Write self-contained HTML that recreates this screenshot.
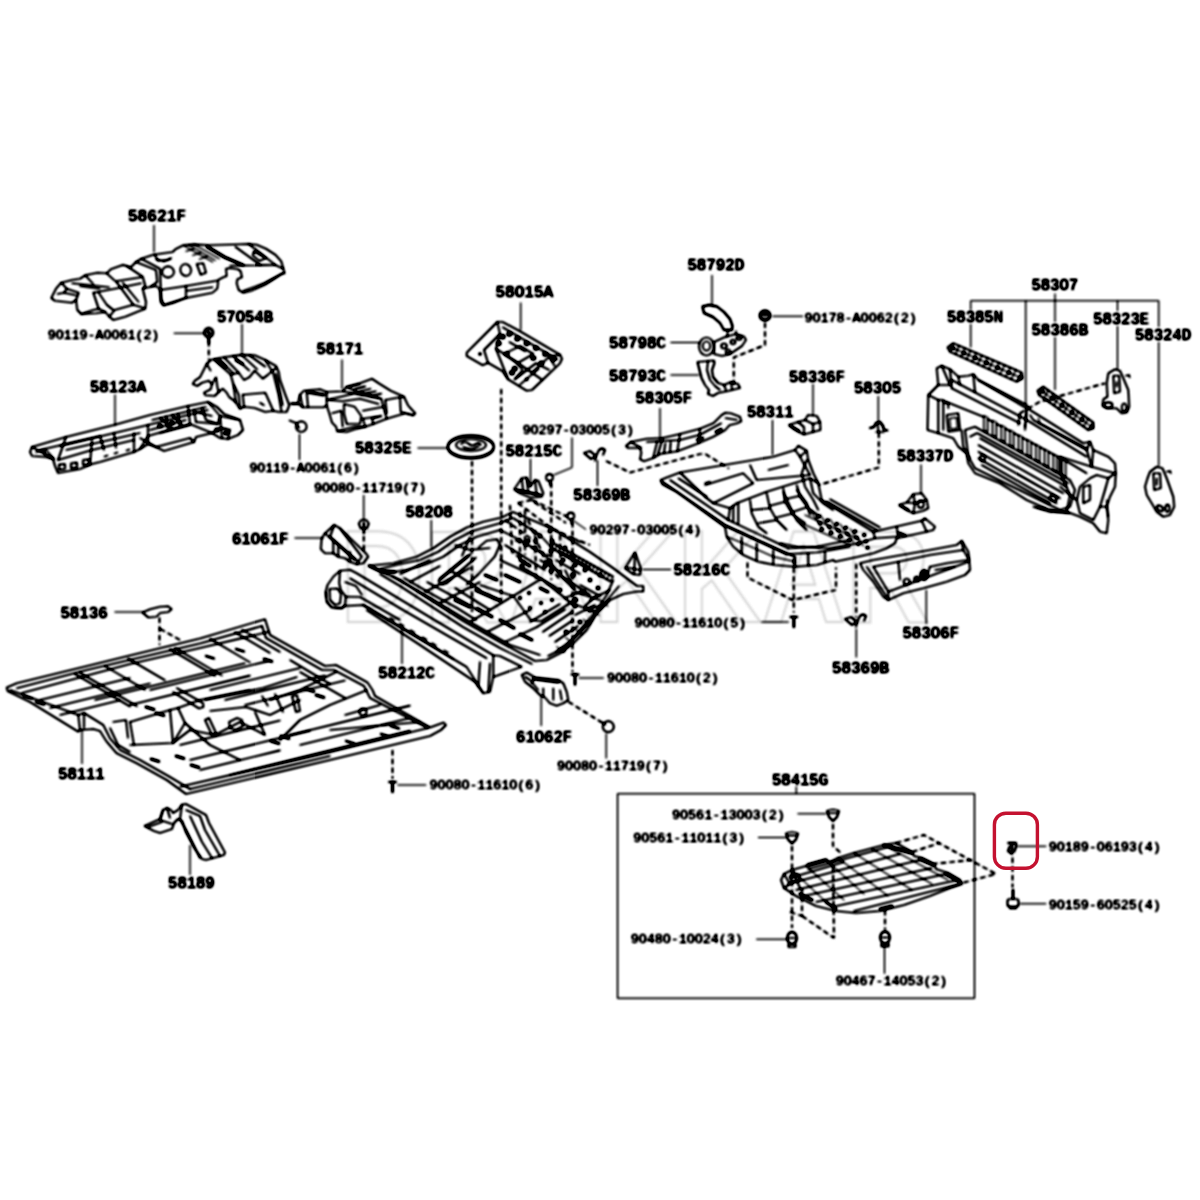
<!DOCTYPE html>
<html><head><meta charset="utf-8"><title>Parts diagram</title>
<style>
html,body{margin:0;padding:0;background:#fff;}
body{width:1200px;height:1200px;overflow:hidden;font-family:"Liberation Mono",monospace;}
svg{display:block;}
.p{fill:none;stroke:#111;stroke-width:1.1;stroke-linejoin:round;stroke-linecap:round;}
.pf{fill:#fff;stroke:#111;stroke-width:1.1;stroke-linejoin:round;stroke-linecap:round;}
.t{fill:none;stroke:#222;stroke-width:0.9;stroke-linejoin:round;stroke-linecap:round;}
.l{fill:none;stroke:#4a4a4a;stroke-width:1.0;}
.d{fill:none;stroke:#111;stroke-width:1.2;stroke-dasharray:5.5 3.2;stroke-linecap:butt;}
.b{font-family:"Liberation Mono",monospace;font-weight:normal;font-size:16.2px;fill:#0a0a0a;stroke:#0a0a0a;stroke-width:0.12;}
.s{font-family:"Liberation Mono",monospace;font-weight:normal;font-size:13.4px;fill:#111;}
.k{fill:#111;stroke:#111;stroke-width:1;}
</style></head><body>
<svg width="1200" height="1200" viewBox="0 0 1200 1200">
<defs><filter id="bl" filterUnits="userSpaceOnUse" x="0" y="0" width="1200" height="1200" color-interpolation-filters="sRGB"><feGaussianBlur stdDeviation="0.85"/><feComponentTransfer><feFuncR type="linear" slope="2.5" intercept="-1.5"/><feFuncG type="linear" slope="2.5" intercept="-1.5"/><feFuncB type="linear" slope="2.5" intercept="-1.5"/></feComponentTransfer></filter></defs>
<rect width="1200" height="1200" fill="#fff"/>
<g filter="url(#bl)">
<rect x="-10" y="-10" width="1220" height="1220" fill="#fff"/>

<g id="01_58621F">
<polygon class="pf" points="51.3,298 56,288.7 61.3,282.7 72,280 80,278.7 85.3,275.3 97.3,272.7 106.7,273.3 110.7,269.3 122.7,264.9 126.7,266 130.7,267.3 136,262 141.3,258.7 153.3,254.7 172.7,252 175.3,249.3 183.3,245.3 194,244.4 208.7,245.3 224.7,244.7 248.7,244 256.7,244.7 266,248.7 275.3,254.7 281.3,261.3 283.3,268.7 284.7,273.3 281.3,274 275.3,278 264.7,284.7 251.3,290.7 243.3,292.7 238.7,290 236.7,283.3 237.3,279.3 242,277.3 240.7,271.3 238,269.3 230,268 226,268.7 226.7,276 223.3,277.3 218,280 218,283.3 217.3,288.7 212.7,292.7 186,298 163.3,305.3 160.7,302 160,290 156.7,286 150.7,286.7 142.7,288.7 144,294 146,302 145.3,308.7 138.7,311.3 125.3,316.7 113.3,320 109.3,316.7 105.3,312 96,313.3 81.3,314 77.3,310 76,300 72,302.7 54.7,300.7"/>
<polyline class="p" points="61.3,282.7 66.7,288.7 64,292.7 57.3,294"/>
<polyline class="p" points="66.7,288.7 78.7,292.7 76,300"/>
<polyline class="p" points="64,292.7 76,295.3"/>
<polyline class="p" points="72,283.3 109.3,287.3"/>
<polyline class="p" points="80,286 100,288.7"/>
<polyline class="p" points="85.3,275.3 93.3,284"/>
<polyline class="p" points="93.3,292.7 98.7,308.7 105.3,312"/>
<polyline class="p" points="98.7,292.7 106.7,304.7 113.3,310"/>
<polyline class="p" points="93.3,292.7 114.7,288.7 141.3,283.3"/>
<polyline class="p" points="116,281.3 133.3,304.7 144,308"/>
<polyline class="p" points="122.7,282.7 138.7,302"/>
<polyline class="p" points="116,281.3 141.3,277.3"/>
<polyline class="p" points="126.7,266 142.7,276.7 145.3,286 142.7,288.7"/>
<polyline class="p" points="106.7,273.3 114.7,280.7"/>
<polyline class="p" points="136,262 156,270 157.3,282 150.7,286.7"/>
<polyline class="p" points="141.3,258.7 160,268.7 160.7,288.7 161.3,299.3 164,305.3 173.3,302.7 185.3,298"/>
<polyline class="p" points="81.3,314 93.3,310 98.7,308.7"/>
<polyline class="p" points="109.3,316.7 114.7,310 133.3,304.7"/>
<polyline class="p" points="156,259.3 164,261.3 170.7,258.7"/>
<ellipse class="p" cx="168" cy="272" rx="6" ry="5.6"/>
<ellipse class="p" cx="185.7" cy="270" rx="5.33333" ry="6" transform="rotate(-15 185.7 270)"/>
<polyline class="p" points="196.7,264 203.3,263.3 206,272.7 200.7,274.7 196.7,264"/>
<polyline class="t" points="183.3,245.3 212.7,262"/>
<polyline class="t" points="188.7,244.9 215.3,260.4"/>
<polyline class="t" points="194,244.4 219.3,258.7"/>
<polyline class="t" points="186,251.3 194,248.7"/>
<polyline class="t" points="192.7,255.3 200.7,252.7"/>
<polyline class="t" points="199.3,259.3 207.3,256.4"/>
<polyline class="p" style="stroke-width:2.24" points="207.3,246.7 224.7,257.3 243.3,265.3"/>
<polyline class="p" points="235.3,246.7 260.7,265.3"/>
<polyline class="p" points="248.7,244 275.3,264.9 230,265.7"/>
<polyline class="p" points="275.3,264.9 283.3,268.7"/>
<polyline class="p" points="254,251.3 266,258 259.3,260.9 252.7,255.3 254,251.3"/>
<polyline class="p" points="283.3,272.9 264.7,283.1 243.3,291.1"/>
<polyline class="p" points="160,290 186,286 216.7,280.7"/>
<polyline class="p" points="186,286 186,298"/>
<polyline class="p" points="187.3,290.7 212.7,287.3"/>
<polyline class="p" points="154.7,254.7 158,260.7 167.3,260 171.3,258"/>
</g>

<g id="02_57054B">
<polygon class="pf" points="214,359.3 224,357.3 241.3,354.9 254.7,355.3 265.3,360 276,366 278.7,372 280,380 285.3,394.7 289.3,405.3 286.7,412 278.7,412 273.3,410.7 265.3,412 254.7,408 244,406.7 240,408.7 236,402.7 233.3,400 229.3,397.3 226.7,392.7 222.7,388.7 218.7,392 214.7,396 205.3,395.3 204,392.7 210.7,389.3 212,384 208.7,380.7 202,382.7 197.3,386 192.7,384 194.7,380.7 200,377.3 203.3,370.7 206.7,364 210.7,360"/>
<polyline class="p" points="214,359.3 230.7,374.7 233.3,384 236,402.7"/>
<polyline class="p" points="230.7,374.7 238.7,372.7 244,380 249.3,377.3 254.7,370.7 262.7,378.7 268,374.7 276,368"/>
<polyline class="p" points="224,357.3 238.7,372.7"/>
<polyline class="p" points="233.3,356 249.3,370.7"/>
<polyline class="p" points="241.3,354.9 257.3,369.3"/>
<polyline class="p" points="249.3,355.3 265.3,366.7"/>
<polyline class="p" points="218.7,358.7 233.3,373.3"/>
<polyline class="p" style="stroke-width:2.45" points="216,360 225.3,366.7"/>
<polyline class="p" style="stroke-width:2.1" points="236,360 242.7,364"/>
<polyline class="p" points="242.7,394.7 265.3,392.7 273.3,410.7"/>
<polyline class="p" points="242.7,394.7 244,406.7"/>
<polyline class="p" points="265.3,360 273.3,373.3 278.7,394.7 281.3,410.7"/>
<polyline class="p" points="276,373.3 282.7,405.3"/>
<polyline class="p" points="233.3,384 238.7,394.7 240,408.7"/>
<polyline class="p" points="212,384 216,377.3 217.3,386.7 218.7,392"/>
<polyline class="p" points="206.7,364 210.7,370.7"/>
<polyline class="p" points="260,402.7 264,405.3"/>
</g>

<g id="03_58123A">
<polygon class="pf" points="30,452 32,447 66,437 114,425 150,415 188,406 208,402 217,407 224,414 240,420 243,430 238,435 228,439 220,438 212,433 196,437 194,442 164,451 156,447 148,444 140,449 134,452 100,462 92,464 80,469 58,473 55,466 53,459 46,457 32,456"/>
<polyline class="p" points="32,447 54,459"/>
<polyline class="p" points="66,437 58,460"/>
<polyline class="p" points="60,446 148,425 208,410"/>
<polyline class="p" points="66,450 140,433"/>
<polyline class="p" points="40,450 100,436"/>
<polyline class="p" points="36,452 44,450 45,455"/>
<polyline class="p" points="92,440 90,464"/>
<polyline class="p" points="134,433 134,452"/>
<polyline class="p" points="148,425 148,444"/>
<polyline class="p" points="188,406 190,424 212,433"/>
<polyline class="p" points="190,424 148,436"/>
<polyline class="p" points="208,402 220,416 222,438"/>
<polyline class="p" points="196,412 212,416"/>
<polyline class="p" points="220,416 240,420"/>
<polyline class="p" points="156,447 190,438 194,442"/>
<polyline class="p" points="160,418 172,428"/>
<polyline class="p" points="172,415 182,425"/>
<polyline class="p" points="140,438 156,447"/>
<polyline class="p" points="150,430 186,420"/>
<polyline class="p" points="222,428 230,430 228,439"/>
<polygon class="p" points="59,464.6 65,464 65,469 59,469.6"/>
<polygon class="p" points="71,463.2 77,462.6 77,467.6 71,468.2"/>
<polygon class="p" points="83,460 89,459.4 89,464.4 83,465"/>
<polyline class="p" points="114.4,453.6 117.6,452.4"/>
<polyline class="p" points="126.4,450.6 129.6,449.4"/>
<polyline class="p" points="104.4,456.6 107.6,455.4"/>
<polyline class="p" points="58,460 92,450 134,440"/>
<polyline class="p" points="152,420 206,407"/>
<polyline class="p" points="160,433 190,425"/>
<polyline class="p" points="194,410 196,422"/>
<polyline class="p" points="202,408 206,420 218,424"/>
<polyline class="p" points="196,422 218,424 220,416"/>
<polyline class="p" points="212,433 220,428 230,430"/>
<polyline class="p" points="166,416 168,429"/>
<polyline class="p" points="178,413.6 180,427"/>
<polyline class="p" points="100,436 104,450"/>
<polyline class="p" points="114,433 116,448"/>
<polyline class="p" points="46,450 54,459"/>
<polyline class="p" points="140,449 148,436"/>
<ellipse class="k" cx="217" cy="430" rx="2" ry="1.6"/>
<ellipse class="k" cx="226" cy="433" rx="2" ry="1.6"/>
<ellipse class="k" cx="172" cy="423" rx="2" ry="1.6"/>
<ellipse class="k" cx="160" cy="426" rx="2" ry="1.6"/>
</g>

<g id="04_58171">
<polygon class="pf" points="298,403.3 300,394.7 304,390.7 320,389.3 326.7,392 342.7,391.3 346.7,386.7 360,383.3 372,378.7 378.7,383.3 390.7,390.7 404,396.7 408,405.3 415.3,413.3 413.3,415.3 405.3,413.3 396,416 386.7,418.7 373.3,424 365.3,426.7 354.7,429.3 346.7,432 337.3,431.3 336,426.7 332,422.7 329.3,413.3 326.7,405.3 324,407.3 302.7,407.3"/>
<polyline class="p" style="stroke-width:1.82" points="291.3,403.6 298,403.6"/>
<polyline class="p" points="300,394.7 302.7,407.3"/>
<polyline class="p" points="306.7,392 308,406.7"/>
<polyline class="p" style="stroke-width:2.8;stroke:#555" points="308,392 324,394.9"/>
<polyline class="p" points="326.7,392 326.7,405.3"/>
<polyline class="p" points="326.7,400 344,396 360,392 381.3,398.7"/>
<polyline class="p" points="342.7,391.3 381.3,398.7 386.7,418.7"/>
<polyline class="p" points="346.7,386.7 362.7,394.7"/>
<polyline class="p" points="349.3,386.7 360,384"/>
<polyline class="p" points="354.7,389.1 365.3,386.4"/>
<polyline class="p" points="360,391.5 370.7,388.8"/>
<polyline class="p" points="365.3,393.9 376,391.2"/>
<polyline class="p" points="370.7,396.3 381.3,393.6"/>
<polyline class="p" points="385.3,400 400,397.3 404,396.7"/>
<polyline class="p" points="385.3,400 386.7,413.3"/>
<polyline class="p" points="400,397.3 400.7,412 413.3,415.3"/>
<polygon class="p" points="344,404 354.7,406.7 361.3,416 360,424 346.7,424 344,413.3"/>
<polyline class="p" points="362.7,410.7 384,406.7"/>
<polyline class="p" points="362.7,418.7 381.3,416"/>
<polyline class="p" points="365.3,426.7 362.7,418.7"/>
<polyline class="p" points="337.3,431.3 354.7,426.7 365.3,426.7"/>
<polyline class="p" points="332,413.3 341.3,410.7 342.7,426.7"/>
<polyline class="p" points="329.3,400 342.7,401.3 360,398.7 378.7,404"/>
<polyline class="p" points="373.3,424 372,418.7 381.3,416"/>
</g>

<g id="05_58015A">
<polygon class="pf" points="497.3,322 502.7,322 520,331.3 560,354.7 562,358.7 560,363.3 532,390 526.7,390.7 508,379.3 502.7,371.3 488,362.7 482.7,365.3 466.7,356 466.7,352.7"/>
<polyline class="p" points="497.3,322 500,334 496,348.7 514.7,360.7 532,372.7 549.3,356.7 560,354.7"/>
<polyline class="p" points="500,334 484,350 488,362.7"/>
<polygon class="p" points="504,354 520,346 533.3,354 517.3,363.3"/>
<polyline class="p" points="514.7,379.3 536,363.3 549.3,370"/>
<polyline class="p" points="520,384.7 538.7,368.7"/>
<polyline class="p" points="502.7,327.3 557.3,359.3"/>
<polyline class="p" points="496,348.7 508,379.3"/>
<polyline class="p" points="509.3,342 525.3,351.3"/>
<polyline class="p" points="514.7,360.7 522.7,370 514.7,379.3"/>
<polyline class="p" points="532,372.7 541.3,379.3"/>
<polyline class="p" points="549.3,356.7 554.7,366"/>
<ellipse class="k" cx="509.3" cy="334" rx="2.13333" ry="1.86667"/>
<ellipse class="k" cx="517.3" cy="338.7" rx="2.13333" ry="1.86667"/>
<ellipse class="k" cx="526.7" cy="343.3" rx="2.13333" ry="1.86667"/>
<ellipse class="k" cx="536" cy="348" rx="2.13333" ry="1.86667"/>
<ellipse class="k" cx="545.3" cy="354" rx="2.13333" ry="1.86667"/>
<ellipse class="k" cx="553.3" cy="359.3" rx="2.13333" ry="1.86667"/>
<ellipse class="k" cx="502.7" cy="336.7" rx="2.13333" ry="1.86667"/>
<ellipse class="k" cx="498.7" cy="343.3" rx="2.13333" ry="1.86667"/>
<ellipse class="k" cx="506.7" cy="354" rx="2.13333" ry="1.86667"/>
<ellipse class="k" cx="514.7" cy="368.7" rx="2.13333" ry="1.86667"/>
<ellipse class="k" cx="533.3" cy="358" rx="2.13333" ry="1.86667"/>
<ellipse class="k" cx="541.3" cy="363.3" rx="2.13333" ry="1.86667"/>
<ellipse class="k" cx="512" cy="372.7" rx="2.13333" ry="1.86667"/>
<ellipse class="k" cx="480" cy="354" rx="1.06667" ry="1.06667"/>
<ellipse class="k" cx="526.7" cy="379.3" rx="1.06667" ry="1.06667"/>
</g>

<g id="06_58325E">
<ellipse class="pf" cx="470.8" cy="446.3" rx="23" ry="11"/>
<ellipse class="p" cx="470.8" cy="447.5" rx="23" ry="11"/>
<ellipse class="p" cx="471" cy="445" rx="15" ry="6"/>
<path class="p" d="M461,444 q4,-4 8,0 q3,3 7,0 q3,-2 5,1 M463,447 q8,4 16,-1"/>
</g>

<g id="07_58215C">
<polygon class="pf" points="514.2,489.2 521.7,478.3 526.7,477.5 530,486.7 535,480 538.3,480.8 543.3,493.3 541.7,496.7 530,497.5 520,493.3"/>
<polyline class="p" points="521.7,478.3 523.3,491.7"/>
<polyline class="p" points="526.7,477.5 528.3,493.3"/>
<polyline class="p" points="535,480 536.7,495"/>
<polyline class="p" style="stroke-width:2.1" points="516.7,490 540,495"/>
</g>

<g id="08_61061F">
<polygon class="pf" points="321.7,538.3 325,533.3 334.2,525 340,528.3 366.7,554.2 368.3,556.7 363.3,563.3 356.7,564.2 350,561.7 345,558.3 338.3,556.7 333.3,553.3 325,553.3 320.8,549.2"/>
<polyline class="p" points="325,533.3 355,560"/>
<polyline class="p" points="334.2,525 330,536.7 358.3,561.7"/>
<polyline class="p" points="340,528.3 361.7,556.7 356.7,564.2"/>
<polyline class="p" points="333.3,540 333.3,553.3"/>
<polyline class="p" points="350,551.7 350,561.7"/>
<polyline class="p" points="338.3,546.7 338.3,556.7"/>
</g>

<g id="09_58212C">
<polygon class="pf" points="325.8,591.7 327.5,585 333.3,576.7 340,570.8 350,569.7 356.7,573.3 400,599.3 493.3,655.3 500,656 521.7,666.7 493.3,677 490,691.7 483.3,693.3 466.7,667 453.3,659 363.3,605 345,606 341.7,608.3 331.7,607.5 326.7,601.7"/>
<polyline class="p" points="325.8,591.7 326.7,601.7 331.7,607.5 341.7,608.3 345,605 345.8,596.7 340.8,590 339.2,583.3 340,570.8"/>
<polygon class="p" points="329.5,589 330,600 335,605 340,603.5 341,594 337.5,588.5"/>
<polyline class="p" points="350,578.3 400,608.3 486.7,658.3"/>
<polyline class="p" points="345.8,596.7 360,597 400,620"/>
<polyline class="p" points="366.7,610 420,645 475,681.7 483,693"/>
<polyline class="p" points="363.3,605 400,626.7 416.7,636 453.3,659"/>
<polyline class="p" points="480,661.7 478.3,686.7"/>
<polyline class="p" points="490,663.3 488.3,691.7"/>
<polyline class="p" points="493.3,655.3 493.3,677"/>
<polyline class="p" points="345,582 356,586 362,595"/>
<polyline class="p" points="390,618 394,620.4"/>
<polyline class="p" points="399.6,623.76 403.6,626.16"/>
<polyline class="p" points="410.4,630.24 414.4,632.64"/>
<polyline class="p" points="422.4,637.44 426.4,639.84"/>
<polyline class="p" points="432,643.2 436,645.6"/>
<polyline class="p" points="444,650.4 448,652.8"/>
</g>

<g id="10_58208">
<polygon class="pf" points="369.2,565.8 393.3,563.3 416.7,556.7 433.3,548.3 450,536.7 466.7,527.5 483.3,521.7 501.7,517.5 513,512 553,529 590,552 613,568 637,586 643.3,586 643.3,591.5 637,591.5 623.3,594 610,600 596.7,613.3 586.7,630 575,641.7 560,653.3 546.7,660 535,661 500,642 463.3,621 400,580"/>
<polyline class="p" style="stroke-width:2.38" points="369.2,565.8 380,571 395,572"/>
<polyline class="p" points="380,569 400,564 420,560 438.3,551.7 455,540 473.3,530.8 500,523.3 512,518"/>
<polyline class="p" points="386.7,573 406.7,570 426.7,564 443.3,556.7 460,545 476.7,536.7 500,530"/>
<polyline class="p" points="553,543 613,576.5"/>
<polyline class="p" points="551.5,548 610.5,581.5"/>
<polyline class="t" points="553,543 551.5,548"/>
<polyline class="t" points="556.75,545.094 555.188,550.094"/>
<polyline class="t" points="560.5,547.188 558.875,552.188"/>
<polyline class="t" points="564.25,549.281 562.562,554.281"/>
<polyline class="t" points="568,551.375 566.25,556.375"/>
<polyline class="t" points="571.75,553.469 569.938,558.469"/>
<polyline class="t" points="575.5,555.562 573.625,560.562"/>
<polyline class="t" points="579.25,557.656 577.312,562.656"/>
<polyline class="t" points="583,559.75 581,564.75"/>
<polyline class="t" points="586.75,561.844 584.688,566.844"/>
<polyline class="t" points="590.5,563.938 588.375,568.938"/>
<polyline class="t" points="594.25,566.031 592.062,571.031"/>
<polyline class="t" points="598,568.125 595.75,573.125"/>
<polyline class="t" points="601.75,570.219 599.438,575.219"/>
<polyline class="t" points="605.5,572.312 603.125,577.312"/>
<polyline class="t" points="609.25,574.406 606.812,579.406"/>
<polyline class="t" points="613,576.5 610.5,581.5"/>
<polyline class="p" points="613.3,580 606.7,595 596.7,610 580,630 566.7,646.7 548,656"/>
<polyline class="p" points="619,586 604,604 590,622 572,640 556,652"/>
<polyline class="t" points="600.83,601.1 607.83,606.1"/>
<polyline class="t" points="592.025,610.25 599.025,615.25"/>
<polyline class="t" points="583.22,619.4 590.22,624.4"/>
<polyline class="t" points="574.415,628.55 581.415,633.55"/>
<polyline class="t" points="565.61,637.7 572.61,642.7"/>
<polyline class="t" points="556.805,646.85 563.805,651.85"/>
<polyline class="p" points="380,574 400,586 463,627 500,648 532,664"/>
<polyline class="p" points="392,576 430,598 470,622 510,645 540,655"/>
<polyline class="p" points="404,578 428,592 457,608 476,620"/>
<polyline class="p" points="427,582 460,600 481,612"/>
<polyline class="p" points="438.7,580.7 470.7,554"/>
<polyline class="p" points="446.7,583 476,557.5"/>
<path class="p" d="M438.7,580.7 q1,6 8,2.3"/>
<polyline class="p" style="stroke-width:2.1" points="440,579 468,556"/>
<polyline class="p" points="478.7,547.3 486.7,540.7 497.3,539.3 500,544.7 494.7,556.7 478.7,574 466.7,584.7"/>
<polyline class="p" points="455,545 470,550 490,548"/>
<polyline class="p" points="500,530 520,540 545,555 560,575 575,590"/>
<polyline class="p" points="513,518 540,535 552,548"/>
<polyline class="p" points="470,537 462,556"/>
<polyline class="p" style="stroke-width:2.52" points="476,590 500,600.7"/>
<polyline class="p" style="stroke-width:2.38" points="477.3,608.7 492,616.7"/>
<polyline class="p" style="stroke-width:2.1" points="505,575 520,582"/>
<polyline class="p" style="stroke-width:2.1" points="485,575 497,580"/>
<polyline class="p" style="stroke-width:2.1" points="520,560 530,566"/>
<polyline class="p" style="stroke-width:2.1" points="540,588 548,592"/>
<polyline class="p" style="stroke-width:2.24" points="455,600 470,607"/>
<polyline class="p" style="stroke-width:2.24" points="500,620 514,628"/>
<polyline class="p" style="stroke-width:2.1" points="520,634 532,640"/>
<polygon class="p" points="513.3,596 541.3,578.7 570.7,602.7 541.3,621.3 530.7,620"/>
<circle class="k" cx="529" cy="593" r="1.2"/>
<circle class="k" cx="541" cy="603" r="1.2"/>
<circle class="k" cx="530" cy="608" r="1.2"/>
<circle class="k" cx="520" cy="598" r="1.2"/>
<circle class="k" cx="552" cy="600" r="1.2"/>
<circle class="k" cx="545" cy="612" r="1.2"/>
<polyline class="p" points="537.3,626.7 565.3,609.3"/>
<polyline class="p" points="542.7,632 572,612"/>
<polyline class="p" points="549.3,636 573.3,620"/>
<polyline class="p" points="555,642 578,626"/>
<polyline class="p" points="530,622 560,604"/>
<polyline class="p" points="410,582 440,566"/>
<polyline class="p" points="425,592 470,568"/>
<polyline class="p" points="440,603 480,582"/>
<polyline class="p" points="470,622 513,596"/>
<polyline class="p" points="487,632 530,610"/>
<polyline class="p" points="505,642 537,627"/>
<polyline class="p" points="400,574 430,560"/>
<polyline class="p" points="500,560 541,579"/>
<polyline class="p" points="505,545 545,570"/>
<polyline class="p" points="560,575 590,595"/>
<polyline class="p" points="571,603 596,612"/>
<polyline class="p" points="480,585 513,596"/>
<polyline class="p" points="520,566 560,590"/>
<polyline class="p" points="450,570 480,590"/>
<polyline class="p" points="455,588 490,610"/>
<polyline class="p" points="575,592 600,600"/>
<polyline class="p" points="585,610 600,606"/>
<polyline class="p" points="596,596 585,606 590,612"/>
<circle class="k" cx="563" cy="650" r="2"/><circle class="k" cx="575" cy="600" r="2.2"/><circle class="k" cx="573" cy="575" r="2"/>
<polyline class="d" points="518,503 531,500 566,523"/>
<polyline class="d" points="518,503 551,528 580,542"/>
<polyline class="d" points="520,512 520,560"/>
<polyline class="d" points="572,538 590,545"/>
<polyline class="d" points="528,520 545,560 560,580"/>
<polyline class="d" points="505,520 540,545"/>
<polyline class="d" points="510,505 512,552 525,562"/>
<polyline class="d" points="532,500 570,518"/>
<polyline class="d" points="525,510 525,555"/>
<polyline class="d" points="515,540 550,556"/>
<polyline class="d" points="535,530 536,580"/>
<polyline class="d" points="560,535 561,575"/>
<circle class="k" cx="550" cy="531" r="1.5"/>
<circle class="k" cx="552" cy="541" r="1.5"/>
<circle class="k" cx="551" cy="551" r="1.5"/>
<circle class="k" cx="550" cy="561" r="1.5"/>
<circle class="k" cx="551" cy="571" r="1.5"/>
<circle class="k" cx="540" cy="536" r="1.5"/>
<circle class="k" cx="528" cy="541" r="1.5"/>
<circle class="k" cx="565" cy="548" r="1.5"/>
<circle class="k" cx="563" cy="560" r="1.5"/>
<circle class="k" cx="572" cy="556" r="1.5"/>
<circle class="k" cx="535" cy="548" r="1.5"/>
<circle class="k" cx="545" cy="566" r="1.5"/>
<circle class="k" cx="522" cy="566" r="1.5"/>
<circle class="k" cx="560" cy="590" r="1.5"/>
<circle class="k" cx="575" cy="606" r="1.5"/>
<circle class="k" cx="583" cy="592" r="1.5"/>
<circle class="k" cx="590" cy="580" r="1.5"/>
<circle class="k" cx="598" cy="588" r="1.5"/>
<circle class="k" cx="600" cy="575" r="1.5"/>
<circle class="k" cx="585" cy="570" r="1.5"/>
<circle class="k" cx="575" cy="565" r="1.5"/>
<circle class="k" cx="566" cy="632" r="1.5"/>
<circle class="k" cx="580" cy="622" r="1.5"/>
<circle class="k" cx="590" cy="610" r="1.5"/>
<polyline class="p" points="556,560 580,574"/>
<polyline class="p" points="560,552 590,568"/>
<polyline class="p" points="580,585 600,596"/>
<polyline class="p" points="565,598 585,590"/>
<polyline class="p" points="590,600 610,590"/>
<polyline class="p" points="575,615 595,605"/>
<polyline class="p" points="565,570 575,590"/>
<polyline class="p" points="540,560 560,572"/>
</g>

<g id="11_58216C">
<polygon class="pf" points="635,552.5 640.8,568.3 640,575 633.3,574.2 625,568.3"/>
<polyline class="p" points="635,552.5 634.2,573.3"/>
<polyline class="p" points="626.7,567.5 640,570"/>
</g>

<g id="12_58111">
<polygon class="pf" points="6.7,687.5 16.7,683.3 88.3,665.8 130,655.5 200,638.5 265,619.2 270,635 325,666 336,665 367.5,682.5 372.5,690 375,696 430,727.5 443.75,722.5 446,725 441,730 430,736 330,760 186,794 166.7,780 136.7,763.3 116.7,753.3 106.7,741.7 100,731 93.3,729 80,730 78.3,731.7 30,702 7.5,691"/>
<polyline class="p" points="16.7,688.3 86.7,670 200,643.5 262,626"/>
<polyline class="p" points="22,693 130,664 200,648 268,632"/>
<polyline class="p" points="10,690 78.3,715 80,730"/>
<polyline class="p" points="78.3,715 84,713 103.3,725 110,738.3 120,750 140,760 170,777 190,789"/>
<polyline class="p" points="84,713 84,728"/>
<polyline class="p" points="180,786.7 330,752 428,728"/>
<polyline class="p" points="190,789 330,756"/>
<polyline class="p" points="262,626 266,638 322,670 334,670 364,686 370,698 428,728"/>
<polyline class="p" points="75,673.96 130,706.41"/>
<polyline class="p" points="80,672.658 137,706.288"/>
<polyline class="p" points="105,666.145 145,689.745"/>
<polyline class="p" points="128,658.453 165,680.283"/>
<polyline class="p" points="170,649.213 215,675.763"/>
<polyline class="p" points="175,647.91 222,675.64"/>
<polyline class="p" points="210,638.793 250,662.393"/>
<polyline class="p" points="235,632.28 270,652.93"/>
<polyline class="p" points="242,629.606 280,652.026"/>
<polyline class="p" points="40,700 130,677.95"/>
<polyline class="p" points="50,708 150,683.5"/>
<polyline class="p" points="60,715 120,700.3"/>
<polyline class="p" points="95,700 245,663.25"/>
<polyline class="p" points="150,690 270,660.6"/>
<polyline class="p" points="130,705 250,675.6"/>
<polyline class="p" points="210,690 300,667.95"/>
<polyline class="p" points="225,700 325,675.5"/>
<polyline class="p" points="245,705 345,680.5"/>
<polyline class="p" points="230,775 410,730.9"/>
<polyline class="p" points="200,770 280,750.4"/>
<polyline class="p" points="290,735 410,705.6"/>
<polyline class="p" points="300,745 410,718.05"/>
<polyline class="p" points="180,745 280,720.5"/>
<polyline class="p" points="190,760 310,730.6"/>
<polyline class="p" points="130,722 170,710 178,708 185,723 173,743 130,745"/>
<polyline class="p" points="178,708 200,700 250,690"/>
<polyline class="p" points="185,723 210,745 240,760"/>
<polyline class="p" points="173,743 190,730 215,735 240,722 265,735 255,712"/>
<polyline class="p" points="130,722 134,745"/>
<polyline class="p" points="170,710 173,743"/>
<polyline class="p" points="176.7,688 203,703 203.5,707 199,708.5 173,692"/>
<polyline class="p" points="205,700 263,688 297,677"/>
<polyline class="p" points="210,711 246,707 270,715 300,700"/>
<polygon class="p" points="205,720 212,735 216,733 209,718"/>
<polygon class="p" points="292,696 296,712 300,711 297,695"/>
<polyline class="p" points="275,694 283,712"/>
<polyline class="p" points="262,696 268,706"/>
<path class="p" d="M229,722 l8,-4 l5,2 l1,6 l-7,4 l-6,-2 z"/>
<circle class="p" cx="363" cy="712" r="3.5"/>
<polyline class="p" points="110,728 118,745 130,752"/>
<polyline class="p" points="113,722 126,720 128,738"/>
<polyline class="p" style="stroke-width:2.24" points="146,707 154,709.5"/>
<polyline class="p" style="stroke-width:2.10" points="156,713 164,715.5"/>
<polyline class="p" style="stroke-width:1.82" points="24,696 32,698.5"/>
<polyline class="p" style="stroke-width:1.82" points="36,702 44,704.5"/>
<polyline class="p" style="stroke-width:2.10" points="271,741 279,743.5"/>
<polyline class="p" style="stroke-width:2.10" points="281,736 289,738.5"/>
<polyline class="p" style="stroke-width:2.10" points="176,756 184,758.5"/>
<polyline class="p" style="stroke-width:2.10" points="191,765 199,767.5"/>
<polyline class="p" style="stroke-width:1.96" points="151,759 159,761.5"/>
<polyline class="p" style="stroke-width:1.96" points="264,659 272,661.5"/>
<polyline class="p" style="stroke-width:1.82" points="236,649 244,651.5"/>
<polyline class="p" style="stroke-width:1.82" points="206,656 214,658.5"/>
<polyline class="p" style="stroke-width:2.10" points="306,689 314,691.5"/>
<polyline class="p" style="stroke-width:2.10" points="316,695 324,697.5"/>
<polyline class="p" style="stroke-width:1.82" points="391,726 399,728.5"/>
<polyline class="p" style="stroke-width:1.82" points="381,734 389,736.5"/>
<polyline class="p" style="stroke-width:1.82" points="346,741 354,743.5"/>
<polyline class="p" points="290,660 330,684"/>
<polyline class="p" points="300,672 345,698"/>
<polyline class="p" points="336,672 300,690 270,700"/>
<polyline class="p" points="367,690 330,705 300,720 280,740"/>
<polyline class="p" points="345,715 380,705"/>
<polyline class="p" points="330,730 420,722"/>
</g>

<g id="13_58136">
<polygon class="pf" points="142.5,612.5 150,609.2 160,606.7 168.3,606.3 171.7,609.2 168.3,612 160,613 156.7,616.7 148.3,617.5"/>
</g>

<g id="14_58189">
<polygon class="pf" points="144.5,826 160,819 163,810 167,808 171,810 173,813 178,810 182,804.5 186,804 206,815 209,823 225,852.5 224,855 206,860 202,859 195,849 186,832 182,821 178,819 174,823 172,829 160,833 154,831"/>
<polyline class="p" points="182,804.5 180,819 186,830 200,858"/>
<polyline class="p" points="186,810 200,816 205,830 220,856"/>
<polyline class="p" points="190,816 202,842 212,858"/>
<polyline class="p" points="163,810 160,820 172,824"/>
<polyline class="p" points="167,808 170,818"/>
<polyline class="p" points="148,827 162,822"/>
</g>

<g id="15_5879x">
<polygon class="p" style="stroke-width:1.4" points="702.5,306.5 709,305 717,306.5 724,312 730,319 732.5,326 732,330 724,330 720,323 713,317 704,313"/>
<polygon class="pf" points="714,342 725,337 736,334 744,336.5 746,340 742,346 736,350 730,354 722,356 714,354"/>
<ellipse class="pf" cx="706.5" cy="346.5" rx="7.5" ry="9"/>
<ellipse class="p" cx="706.5" cy="346" rx="3.8" ry="4.5"/>
<ellipse class="p" cx="724" cy="346" rx="2.8" ry="2.5"/>
<ellipse class="p" cx="733" cy="342" rx="2.4" ry="2.2"/>
<ellipse class="p" cx="728" cy="351.5" rx="2.2" ry="2"/>
<ellipse class="p" cx="739" cy="338" rx="2.5" ry="1.8"/>
<polyline class="p" points="728,330 727,337"/>
<polyline class="p" points="736,331 736,334"/>
<polygon class="p" style="stroke-width:1.2" points="697.5,362 714,360.5 714.5,363 712,370 713,377 718,383 724,385 731,382 738,384 740,388 736,389 728,391 718,393 713,396 708,394 709,390 705,385 701.5,378 699.5,370"/>
<polyline class="p" points="708,361 707,370 710,380 715,386 720,390"/>
<polyline class="p" points="724,385 726,390"/>
<polyline class="p" points="731,382 732,389"/>
</g>

<g id="16_58305F">
<polygon class="pf" points="626,446 630.7,442 646.7,438.7 662.7,438 680,434 700,428.7 713.3,423.3 721.3,415.3 725.3,412.7 730.7,413.3 740,416.7 741.3,421.3 737.3,423.3 729.3,425.3 725.3,430 713.3,436.7 694.7,444.7 677.3,451.3 660,454 653.3,458 644,461.3 640,459.3 641.3,452.7 640,448 628,448"/>
<polyline class="p" points="630.7,442 641.3,448"/>
<polyline class="p" points="657.3,441.3 653.3,457.3"/>
<polyline class="p" points="662.7,438 658,454"/>
<polyline class="p" points="646.7,442 680,440 700,434.7 721.3,423.3"/>
<polyline class="p" points="680,434 677.3,451.3"/>
<polyline class="p" points="700,428.7 698.7,443.3"/>
<polyline class="p" points="665.3,443.3 664,452.7"/>
<polyline class="p" points="670.7,442 670,452"/>
<polyline class="p" points="725.3,418 737.3,420"/>
<polyline class="p" style="stroke-width:2.1" points="697.3,440 702.7,438"/>
<polyline class="p" style="stroke-width:2.1" points="716,432 721.3,429.3"/>
</g>

<g id="17_small">
<polygon class="pf" points="789,425 798,422 805,420 808,415 817,416 820,422 820.5,430 813,432 804,434.5 799,432 794,429"/>
<polyline class="p" points="805,420 813,424 813,432"/>
<polyline class="p" points="798,422 804,427 804,434.5"/>
<polyline class="p" points="813,424 820,422"/>
<polyline class="p" style="stroke-width:1.82" points="790,425.5 799,431"/>
<polyline class="p" style="stroke-width:1.54" points="870,428 874,427 876,423 880,422 883,426 884,430 887.5,430.5"/>
<polyline class="p" points="876,432 884,432"/>
<polyline class="p" points="877.5,423.5 878.5,431.5"/>
<polygon class="pf" points="899.2,505 906.7,502.5 913.3,494.2 921.7,493.3 926.7,500 928.3,508.3 923.3,510.8 913.3,513.3 906.7,510"/>
<polyline class="p" points="913.3,494.2 915,503.3 913.3,513.3"/>
<polyline class="p" points="906.7,502.5 915,503.3 926.7,500"/>
<ellipse class="p" cx="920.8" cy="504.2" rx="3" ry="3.66667"/>
<polyline class="p" style="stroke-width:1.82" points="900,505.3 908.3,510"/>
</g>

<g id="18_58306F">
<polygon class="pf" points="860,563.3 873.3,560 930,550 956.7,545 961.7,540.8 968.3,551.7 969.2,560 970,570 965,575 946.7,581.7 923.3,588.3 903.3,593.3 888.3,600 883.3,596.7 873.3,581.7 863.3,570"/>
<polyline class="p" points="873.3,566.7 888.3,591.7 968.3,561.7"/>
<polyline class="p" points="873.3,566.7 898.3,561.7 930,555 963.3,550"/>
<polyline class="p" points="898.3,561.7 900,580"/>
<polyline class="p" points="866.7,566.7 886.7,596.7"/>
<polyline class="p" points="930,566.7 946.7,563.3 968.3,560"/>
<polyline class="p" points="930,566.7 926.7,576.7"/>
<polyline class="p" points="961.7,540.8 963.3,550 969.2,560"/>
<polyline class="p" points="888.3,591.7 888.3,600"/>
<polyline class="p" points="935,570 955,566.7"/>
<ellipse class="k" cx="924.2" cy="575" rx="3.66667" ry="5"/>
<ellipse class="p" cx="906.7" cy="581.7" rx="3" ry="3"/>
<ellipse class="p" cx="916.7" cy="579.2" rx="2.33333" ry="2.33333"/>
</g>

<g id="19_58311">
<polygon class="pf" points="660.8,480 666.7,477.5 680,472.5 773.3,456.7 795,450 798.3,445.8 806.7,450.8 808.3,460 813.3,473.3 818.3,483.3 821.7,500 873.3,531.7 921.7,520.8 925,518.3 935,526.7 933.3,530 926.7,531.7 896.7,538.3 895,543.3 886.7,548.3 873.3,553.3 858.3,556.7 835,561.7 833.3,560 816.7,565 795,566.7 775,565 758.3,561.7 743.3,555 733.3,546.7 726.7,536.7 725,526.7 676.7,491.7 662.5,484.2"/>
<polyline class="p" points="670,480 728.3,520 788.3,548.3"/>
<polyline class="p" points="660.8,480.8 725,525 786.7,553.3 795,556.7"/>
<polyline class="p" points="725,525.8 786.7,554.2 816.7,552.5 850,546.7"/>
<polyline class="p" points="788.3,548.3 816.7,546.7 850,540"/>
<polyline class="p" points="680,472.5 705,496.7 713.3,503.3"/>
<polyline class="p" points="678.3,478.3 706.7,496.7"/>
<polyline class="p" points="705,485 743.3,473.3 753.3,483.3 713.3,503.3"/>
<polyline class="p" points="750,465 756.7,480 810,475"/>
<polyline class="p" points="705,483.3 710,481.7"/>
<polyline class="p" points="768.3,470 788.3,465"/>
<polyline class="p" points="795,450 800,456.7 806.7,450.8"/>
<polyline class="p" points="800,456.7 810,475"/>
<polyline class="p" points="713.3,503.3 730,508.3 736.7,503.3 766.7,491.7 810,478.3 818.3,483.3"/>
<polyline class="p" points="730,508.3 728.3,520"/>
<polyline class="p" points="733.3,505.8 733.3,520.8"/>
<polyline class="p" points="738.3,503.8 738.3,523.3"/>
<polyline class="p" points="750,500 751.7,513.3 758.3,526.7 766.7,533.3"/>
<polyline class="p" points="766.7,493.3 770,508.3 776.7,520 786.7,530"/>
<polyline class="p" points="783.3,488.3 785,501.7 793.3,515 805,523.3"/>
<polyline class="p" points="796.7,485 800,496.7 808.3,508.3 820,516.7"/>
<polyline class="p" points="810,478.3 813.3,493.3 823.3,503.3 833.3,510"/>
<polyline class="p" points="751.7,510 770,508.3"/>
<polyline class="p" points="758.3,523.3 776.7,520"/>
<polyline class="p" points="770,505.8 785,501.7"/>
<polyline class="p" points="776.7,517.5 793.3,513.3"/>
<polyline class="p" points="785,499.2 800,495.8"/>
<polyline class="p" points="793.3,511.7 808.3,506.7"/>
<polyline class="p" points="741.7,536.7 741.7,553.3"/>
<polyline class="p" points="773.3,550 773.3,564.2"/>
<polyline class="p" points="795,556.7 795,566.7"/>
<polyline class="p" points="808.3,553.3 808.3,565.8"/>
<polyline class="p" points="825,551.7 825,561.7"/>
<polyline class="p" points="756.7,543.3 756.7,560"/>
<polyline class="t" points="726.7,536.7 743.3,543.3 773.3,556.7 795,561.7"/>
<polyline class="p" points="826.7,501.7 876.7,530"/>
<polyline class="p" points="830,499.2 880,527.5"/>
<polyline class="p" points="873.3,531.7 875,538.3 858.3,543.3 830,548.3 796.7,546.7 780,543.3"/>
<polyline class="p" points="875,538.3 896.7,536.7"/>
<polyline class="p" points="921.7,520.8 926.7,531.7"/>
<polyline class="p" points="896.7,526.7 898.3,537.5"/>
<polyline class="p" style="stroke-width:2.1" points="899.2,533.3 905,535.8"/>
<ellipse class="k" cx="818.3" cy="516.7" rx="1.5" ry="1.16667"/>
<ellipse class="k" cx="820" cy="523" rx="1.5" ry="1.16667"/>
<ellipse class="k" cx="821.7" cy="529.3" rx="1.5" ry="1.16667"/>
<ellipse class="k" cx="827.5" cy="520.3" rx="1.5" ry="1.16667"/>
<ellipse class="k" cx="829.2" cy="526.7" rx="1.5" ry="1.16667"/>
<ellipse class="k" cx="830.8" cy="533" rx="1.5" ry="1.16667"/>
<ellipse class="k" cx="836.7" cy="524" rx="1.5" ry="1.16667"/>
<ellipse class="k" cx="838.3" cy="530.3" rx="1.5" ry="1.16667"/>
<ellipse class="k" cx="840" cy="536.7" rx="1.5" ry="1.16667"/>
<ellipse class="k" cx="845.8" cy="527.7" rx="1.5" ry="1.16667"/>
<ellipse class="k" cx="847.5" cy="534" rx="1.5" ry="1.16667"/>
<ellipse class="k" cx="849.2" cy="540.3" rx="1.5" ry="1.16667"/>
<ellipse class="k" cx="855" cy="531.3" rx="1.5" ry="1.16667"/>
<ellipse class="k" cx="856.7" cy="537.7" rx="1.5" ry="1.16667"/>
<ellipse class="k" cx="858.3" cy="544" rx="1.5" ry="1.16667"/>
<ellipse class="k" cx="864.2" cy="535" rx="1.5" ry="1.16667"/>
<ellipse class="k" cx="865.8" cy="541.3" rx="1.5" ry="1.16667"/>
<ellipse class="k" cx="867.5" cy="547.7" rx="1.5" ry="1.16667"/>
<polyline class="t" points="810,510 823.3,530"/>
<polyline class="t" points="820,514.7 833.3,534"/>
<polyline class="t" points="830,519.3 843.3,538"/>
<polyline class="t" points="840,524 853.3,542"/>
<polyline class="t" points="850,528.7 863.3,546"/>
<polyline class="t" points="805,515 860,540"/>
<polyline class="t" points="801.7,523.3 850,545"/>
<polyline class="p" points="806.7,460 801.7,473.3 805,486.7 813.3,500 818.3,510"/>
<polyline class="p" points="796.7,490 806.7,503.3 810,515"/>
<polyline class="p" points="783.3,491.7 790,506.7 796.7,520 806.7,530"/>
</g>

<g id="20_58307">
<polygon class="pf" points="936.7,368.3 941.7,365.8 950,369.2 958.3,376.7 968.3,375.8 973.3,374.2 978.3,380 1026.7,405 1030,410 1083.3,443.3 1090,441.7 1093.3,450 1108.3,456.7 1115,463.3 1115.8,473.3 1115,486.7 1110,496.7 1106.7,506.7 1108.3,520 1106.7,533.3 1100,531.7 1093.3,523.3 1080,516.7 1066.7,511.7 1050,511.7 1033.3,506.7 1070,513.3 1053.3,511.7 1026.7,500 1000,483.3 975,473.3 968.3,463.3 966.7,453.3 958.3,446.7 953.3,438.3 938.3,433.3 927.5,430 928.3,395 938.3,385"/>
<polyline class="p" points="941.7,365.8 950,385"/>
<polyline class="p" points="950,369.2 951.7,388.3"/>
<polyline class="p" points="938.3,385 950,385 951.7,380"/>
<polyline class="p" points="951.7,380 1026.7,420 1086.7,456.7"/>
<polyline class="p" points="951.7,388.3 1020,423.3"/>
<polyline class="p" points="978.3,380 1026.7,408.3"/>
<polyline class="p" points="958.3,376.7 960,385"/>
<polyline class="p" points="973.3,374.2 975,391.7"/>
<polyline class="p" points="1020,413.3 1018.3,425"/>
<polyline class="p" points="1026.7,408.3 1025,430"/>
<polyline class="p" points="928.3,395 938.3,400 938.3,433.3"/>
<polyline class="p" points="938.3,400 941.7,400 983.3,416.7 1070,463.3 1086.7,473.3"/>
<polyline class="p" points="943.3,400 943.3,430"/>
<polygon class="p" points="946.7,415 958.3,413.3 960,430 948.3,431.7"/>
<polygon class="t" points="950,418.3 956.7,417.5 957.5,428.3 950.8,429.2"/>
<polyline class="p" points="945,403.3 948.3,403.3 948.3,408.3"/>
<polyline class="p" points="1030,415 1033.3,420 1086.7,450 1091.7,466.7"/>
<polyline class="p" points="1026.7,410 1025,426.7"/>
<polyline class="t" points="1038.3,418.3 1040,423.3 1086.7,448.3"/>
<polyline class="p" points="1093.3,450 1091.7,466.7 1060,456.7"/>
<polyline class="p" points="1091.7,466.7 1115,473.3"/>
<polyline class="p" points="1090,441.7 1086.7,450"/>
<polygon class="p" style="fill:#f1f1f1;stroke-width:0.8" points="984.2,415.8 987.8,417.5 987.8,432 984.2,430"/>
<polygon class="p" style="fill:#f1f1f1;stroke-width:0.8" points="992.8,420.7 996.5,422.3 996.5,437 992.8,435"/>
<polygon class="p" style="fill:#f1f1f1;stroke-width:0.8" points="1001.5,425.5 1005.2,427.2 1005.2,442 1001.5,440"/>
<polygon class="p" style="fill:#f1f1f1;stroke-width:0.8" points="1010.2,430.3 1013.8,432 1013.8,447 1010.2,445"/>
<polygon class="p" style="fill:#f1f1f1;stroke-width:0.8" points="1018.8,435.2 1022.5,436.8 1022.5,452 1018.8,450"/>
<polygon class="p" style="fill:#f1f1f1;stroke-width:0.8" points="1027.5,440 1031.2,441.7 1031.2,457 1027.5,455"/>
<polygon class="p" style="fill:#f1f1f1;stroke-width:0.8" points="1036.2,444.8 1039.8,446.5 1039.8,462 1036.2,460"/>
<polygon class="p" style="fill:#f1f1f1;stroke-width:0.8" points="1044.8,449.7 1048.5,451.3 1048.5,467 1044.8,465"/>
<polygon class="p" style="fill:#f1f1f1;stroke-width:0.8" points="1053.5,454.5 1057.2,456.2 1057.2,472 1053.5,470"/>
<polygon class="p" style="fill:#f1f1f1;stroke-width:0.8" points="1062.2,459.3 1065.8,461 1065.8,477 1062.2,475"/>
<polygon class="p" points="965,430 975,426.7 1070,480 1075,490 1070,506.7 1060,510 975,468.3 968.3,456.7"/>
<polyline class="p" points="980,438.3 1066.7,486.7"/>
<polyline class="p" points="978.3,445 1063.3,493.3"/>
<polyline class="p" points="978.3,451.7 1060,498.3"/>
<polyline class="p" points="978.3,458.3 1056.7,503.3"/>
<polyline class="p" points="981.7,465 1050,503.3"/>
<polyline class="p" points="977.5,433.3 1068.3,483.3"/>
<ellipse class="p" cx="982.5" cy="458.3" rx="2.33333" ry="3"/>
<ellipse class="p" cx="1053.3" cy="498.3" rx="3.66667" ry="2.33333" transform="rotate(30 1053.3 498.3)"/>
<polyline class="p" points="961.7,430 963.3,446.7 970,458.3"/>
<polyline class="p" points="970,436.7 976.7,433.3"/>
<polygon class="p" points="1090,478.3 1096.7,475 1108.3,478.3 1105,490 1100,506.7 1093.3,520 1080,513.3 1076.7,500 1080,486.7"/>
<polygon class="p" points="1083.3,486.7 1090,485 1090,500 1083.3,503.3"/>
<polyline class="p" points="1108.3,478.3 1115,473.3"/>
<polyline class="p" points="1100,506.7 1106.7,506.7"/>
<polyline class="t" points="1106.7,500 1108.3,516.7"/>
<polyline class="p" points="1070,495 1076.7,500"/>
<polyline class="p" points="1066.7,511.7 1070,495 1060,486.7"/>
<polyline class="p" points="1060,456.7 1060,471.7 1070,495"/>
</g>

<g id="21_strips">
<polygon class="pf" points="947.5,347.5 953.3,343.3 1021.7,372.5 1022.5,378.3 1016.7,381.7 950,351.7"/>
<polyline class="t" points="953.3,343.3 950,351.7"/>
<ellipse class="k" cx="953" cy="348.2" rx="1.5" ry="1.16667"/>
<polyline class="t" points="959,345.8 955.6,354.2"/>
<polyline class="t" points="964.7,348.2 961.1,356.7"/>
<ellipse class="k" cx="964.2" cy="353.1" rx="1.5" ry="1.16667"/>
<polyline class="t" points="970.4,350.6 966.7,359.2"/>
<polyline class="t" points="976.1,353.1 972.2,361.7"/>
<ellipse class="k" cx="975.5" cy="358" rx="1.5" ry="1.16667"/>
<polyline class="t" points="981.8,355.5 977.8,364.2"/>
<polyline class="t" points="987.5,357.9 983.3,366.7"/>
<ellipse class="k" cx="986.8" cy="363" rx="1.5" ry="1.16667"/>
<polyline class="t" points="993.2,360.3 988.9,369.2"/>
<polyline class="t" points="998.9,362.8 994.4,371.7"/>
<ellipse class="k" cx="998" cy="367.9" rx="1.5" ry="1.16667"/>
<polyline class="t" points="1004.6,365.2 1000,374.2"/>
<polyline class="t" points="1010.3,367.6 1005.6,376.7"/>
<ellipse class="k" cx="1009.2" cy="372.8" rx="1.5" ry="1.16667"/>
<polyline class="t" points="1016,370.1 1011.1,379.2"/>
<polyline class="t" points="1021.7,372.5 1016.7,381.7"/>
<ellipse class="k" cx="1020.5" cy="377.8" rx="1.5" ry="1.16667"/>
<polyline class="t" points="951.7,347.5 1019.2,377.1"/>
<polygon class="pf" points="1037.5,390.8 1043.3,386.7 1093.3,422.5 1093.3,428.3 1088.3,430 1039.2,395"/>
<polyline class="t" points="1043.3,386.7 1039.2,395"/>
<ellipse class="k" cx="1042.6" cy="391.5" rx="1.5" ry="1.16667"/>
<polyline class="t" points="1048.3,390.2 1044.1,398.5"/>
<polyline class="t" points="1053.3,393.8 1049,402"/>
<ellipse class="k" cx="1052.5" cy="398.6" rx="1.5" ry="1.16667"/>
<polyline class="t" points="1058.3,397.4 1053.9,405.5"/>
<polyline class="t" points="1063.3,401 1058.8,409"/>
<ellipse class="k" cx="1062.4" cy="405.7" rx="1.5" ry="1.16667"/>
<polyline class="t" points="1068.3,404.6 1063.8,412.5"/>
<polyline class="t" points="1073.3,408.2 1068.7,416"/>
<ellipse class="k" cx="1072.3" cy="412.8" rx="1.5" ry="1.16667"/>
<polyline class="t" points="1078.3,411.8 1073.6,419.5"/>
<polyline class="t" points="1083.3,415.3 1078.5,423"/>
<ellipse class="k" cx="1082.2" cy="419.8" rx="1.5" ry="1.16667"/>
<polyline class="t" points="1088.3,418.9 1083.4,426.5"/>
<polyline class="t" points="1093.3,422.5 1088.3,430"/>
<ellipse class="k" cx="1092.2" cy="426.9" rx="1.5" ry="1.16667"/>
<polyline class="t" points="1041.2,390.8 1090.8,426.2"/>
</g>

<g id="22_brackets">
<polygon class="pf" points="1108.3,373.3 1115,369.2 1120,370.8 1123.3,378.3 1128.3,390 1129.2,406.7 1126.7,412.5 1121.7,413.3 1116.7,408.3 1106.7,408.3 1102.5,405.8 1103.3,399.2 1107.5,396.7 1106.7,383.3"/>
<polygon class="p" points="1113.3,375.8 1119.2,375.8 1120,391.7 1114.2,393.3"/>
<ellipse class="p" cx="1108.3" cy="405" rx="4.16667" ry="2.66667"/>
<ellipse class="p" cx="1124.2" cy="407.5" rx="2.33333" ry="4"/>
<polyline class="p" points="1125.8,375.8 1129.2,375 1129.7,377.5"/>
<polyline class="p" points="1116.7,381.7 1116.7,386.7"/>
<polygon class="pf" points="1150,471.7 1156.7,466.7 1162.5,468.3 1166.7,478.3 1173.3,496.7 1174.2,506.7 1170,515 1163.3,516.7 1156.7,511.7 1151.7,503.3 1146.7,495 1145,486.7 1147.5,478.3"/>
<polygon class="p" points="1153.3,473.3 1160,473.3 1160.8,488.3 1154.2,490"/>
<ellipse class="p" cx="1160" cy="508.3" rx="3.66667" ry="2.33333" transform="rotate(30 1160 508.3)"/>
<ellipse class="p" cx="1167.5" cy="508.3" rx="2" ry="3.66667"/>
<polyline class="p" points="1166.7,471.7 1170.3,471 1170.8,473.3"/>
<polyline class="p" points="1156.7,478.3 1156.7,485"/>
</g>

<g id="23_58415G">
<rect class="p" style="stroke-width:0.9;stroke:#2a2a2a" x="618" y="793.75" width="356.5" height="204.5"/>
<polygon class="pf" points="781,880 784,874 792,870 806,866 826,860 830,862 838,858 854,853 884,845 896,843 912,852 914,856 922,858 934,864 936,869 948,873 960,880 962,884 950,888 930,896 904,905 880,911 856,913 836,911 816,906 796,896 784,888"/>
<polyline class="p" points="788,884 900,854"/>
<polyline class="p" points="796,890 920,860"/>
<polyline class="p" points="804,896 932,868"/>
<polyline class="p" points="816,902 946,874"/>
<polyline class="p" points="832,907 958,880"/>
<polyline class="p" points="808,869 888,847"/>
<polyline class="p" points="790,878 844,862"/>
<polyline class="p" points="854,911 960,884"/>
<polyline class="t" points="838,858 888,896"/>
<polyline class="t" points="854,853 912,890"/>
<polyline class="t" points="872,849 932,884"/>
<polyline class="t" points="826,860 864,894"/>
<polyline class="t" points="884,845 948,880"/>
<polyline class="t" points="806,866 844,900"/>
<polyline class="t" points="792,870 826,902"/>
<polyline class="p" style="stroke-width:2.38" points="808,865 826,860"/>
<polyline class="p" style="stroke-width:2.52" points="884,845 912,853"/>
<polyline class="p" style="stroke-width:2.52" points="920,859 934,865"/>
<polyline class="p" style="stroke-width:2.52" points="946,874 960,882"/>
<polyline class="p" style="stroke-width:2.38" points="800,894 812,900"/>
<polyline class="p" style="stroke-width:2.1" points="826,902 836,909"/>
<polyline class="p" style="stroke-width:2.1" points="880,909 892,906"/>
<polyline class="p" points="784,874 790,884 784,888"/>
<polyline class="p" points="792,870 800,888"/>
<polygon class="p" points="790,876 798,874 800,880 792,882"/>
<polyline class="d" points="833,824 833,846 842,854"/>
<polyline class="d" points="833,866 834,938"/>
<polyline class="d" points="792,846 792,928"/>
<polyline class="d" points="802,916 834,938"/>
<polyline class="d" points="790,912 802,916"/>
<polyline class="d" points="802,888 802,916"/>
<polyline class="d" points="896,843 924,835 996,874 962,883"/>
<polyline class="d" points="885,910 885,930"/>
<polyline class="d" points="932,864 972,860"/>
<polyline class="d" points="912,852 940,843"/>
</g>

<g id="24_61062F">
<polygon class="pf" points="521.7,675 526.7,672.5 535,677.5 558.3,680 563.3,683.3 566.7,691.7 568.3,700 563.3,703.3 556.7,705.8 550,703.3 545,697.5 540,695 533.3,688.3 525,681.7"/>
<polyline class="p" points="535,677.5 531.7,683.3"/>
<polyline class="p" points="543.3,688.3 543.3,696.7"/>
<polyline class="p" points="553.3,688.3 553.3,700"/>
<polyline class="p" points="560,690 561.7,700"/>
<polyline class="p" style="stroke-width:2.1" points="533.3,678.7 558.3,682"/>
<polyline class="p" points="525,676.7 530,680 538.3,690"/>
</g>

<g class="l">
<polyline points="154,225 154,252.5"/>
<polyline points="173.75,333.25 205,333.25"/>
<polyline points="242,324 242,355"/>
<polyline points="115,394.5 115,426"/>
<polyline points="342,359.5 342,389"/>
<polyline points="520.75,302.5 520.75,330"/>
<polyline points="417.5,448 448,448"/>
<polyline points="712,275 712,305"/>
<polyline points="670.5,342.5 699,342.5"/>
<polyline points="670.5,375 699,375"/>
<polyline points="660,408 660,440"/>
<polyline points="813,384 813,415"/>
<polyline points="878.25,396 878.25,424"/>
<polyline points="772.5,420 772.5,455"/>
<polyline points="772.5,316.25 803,316.25"/>
<polyline points="970.75,300.75 1158.75,300.75"/>
<polyline points="1055,293.5 1055,300.75"/>
<polyline points="970.75,300.75 970.75,310"/>
<polyline points="970.75,324 970.75,347.5"/>
<polyline points="1025.75,300.75 1025.75,405"/>
<polyline points="1055,300.75 1055,322"/>
<polyline points="1055,337 1055,390"/>
<polyline points="1117.5,300.75 1117.5,311"/>
<polyline points="1117.5,326 1117.5,369"/>
<polyline points="1158.75,300.75 1158.75,327"/>
<polyline points="1158.75,342 1158.75,466"/>
<polyline points="921,464.5 921,493.5"/>
<polyline points="114.5,612 143.75,612"/>
<polyline points="82,730 82,764"/>
<polyline points="190,845 190,875"/>
<polyline points="402,628.75 402,664"/>
<polyline points="397.5,785 426.25,785"/>
<polyline points="299.5,434 299.5,460"/>
<polyline points="363.75,495 363.75,520"/>
<polyline points="294.5,538 323.75,538"/>
<polyline points="431.25,520 431.25,547.5"/>
<polyline points="572,437.5 572,467.5 553.75,475"/>
<polyline points="530.5,458.75 530.5,485"/>
<polyline points="597.5,460 597.5,486"/>
<polyline points="572.5,520 586,529.5"/>
<polyline points="642.5,569.5 671,569.5"/>
<polyline points="578.75,678 603.75,678"/>
<polyline points="926.25,590 926.25,624"/>
<polyline points="856.25,628.75 856.25,657.5"/>
<polyline points="761.25,622 788.75,622"/>
<polyline points="796.25,786.5 796.25,794"/>
<polyline points="797.5,813.75 826.25,813.75"/>
<polyline points="758,837.5 786.25,837.5"/>
<polyline points="756.25,939.25 787.5,939.25"/>
<polyline points="884.5,945 884.5,973.75"/>
<polyline points="1017.5,846.25 1046.25,846.25"/>
<polyline points="1020,903.75 1046.25,903.75"/>
<polyline points="541.2,695 541.2,726"/>
<polyline points="606.2,733.5 606.2,758.5"/>
</g><g class="d">
<polyline points="208.75,341 208.75,360"/>
<polyline points="501.25,389 501.25,600"/>
<polyline points="472,461 472,612"/>
<polyline points="765,322.5 765,345 733.75,357.5 733.75,385"/>
<polyline points="878.75,432.5 878.75,467.5 818.75,485"/>
<polyline points="159.5,617.5 159.5,645"/>
<polyline points="160,628.75 180,640"/>
<polyline points="392.5,750 392.5,778.75"/>
<polyline points="363.75,536 363.75,550"/>
<polyline points="551.25,482.5 551.25,580"/>
<polyline points="572.5,522 572.5,672"/>
<polyline points="606,461 630,472.5 700,454 705.3,454 729,468.5"/>
<polyline points="856.25,563.75 856.25,617.5"/>
<polyline points="793.75,558.75 793.75,612.5"/>
<polyline points="747.5,562.5 747.5,577.5 792.5,600 836,590 836,567.5"/>
<polyline points="1012.5,857.5 1012.5,887.5"/>
<polyline points="1020,413.3 1040,401.7 1105,383.3"/>
<polyline points="568.3,701.7 601,722"/>
</g>
<ellipse class="pf" style="stroke-width:1.2;fill:#c8c8c8" cx="208.7" cy="332.5" rx="4.5" ry="4.7250000000000005"/><line class="p" x1="207.2" y1="330.5" x2="210.2" y2="335.0"/>
<line class="p" style="stroke-width:1.8" x1="208.7" y1="337" x2="208.7" y2="343"/>
<circle class="pf" cx="301.3" cy="426.7" r="5.3"/><path class="p" style="stroke-width:1.32" d="M289.5,420.5 L296,423 L299,428"/>
<path class="pf" style="stroke-width:1.2" d="M358.8,523.5 L361.3,520.0 L366.3,520.0 L368.8,523.5 L366.8,528.5 L360.8,528.5 Z"/><path class="p" style="stroke-width:1.44" d="M363.8,522.5 L363.8,533.5"/>
<circle class="pf" style="stroke-width:1.2" cx="608.3" cy="726.7" r="5.5"/><path class="p" d="M600.5,721.5 l5,3"/>
<path class="p" style="stroke-width:1.56" d="M389.0,782 L396.0,782"/><path class="p" style="stroke-width:1.8" d="M392.5,782 L392.5,792"/>
<path class="p" style="stroke-width:1.56" d="M571.5,674.5 L578.5,674.5"/><path class="p" style="stroke-width:1.8" d="M575,674.5 L575,684.5"/>
<path class="p" style="stroke-width:1.56" d="M790.3,617 L797.3,617"/><path class="p" style="stroke-width:1.8" d="M793.8,617 L793.8,627"/>
<ellipse class="pf" style="stroke-width:1.44;fill:#c0c0c0" cx="765" cy="315.5" rx="5.2" ry="5"/><path class="p" d="M762,314 h6"/>
<circle class="pf" cx="549.5" cy="477.5" r="3.4"/><path class="p" d="M550.0,480.9 v4"/>
<circle class="pf" cx="570.8" cy="516" r="3.4"/><path class="p" d="M571.3,519.4 v4"/>
<path class="p" style="stroke-width:1.2" d="M584,453 l6,-2 l6,5 l-5,3 z M596,456 l3,-6 q3,-3 6,0 l-2,5 M596,456 l-1,5"/>
<path class="p" style="stroke-width:1.2" d="M845,619 l6,-2 l6,5 l-5,3 z M857,622 l3,-6 q3,-3 6,0 l-2,5 M857,622 l-1,5"/>
<path class="pf" style="stroke-width:1.2" d="M827,811 Q833,808 839,811 L837,817 L833,821 L829,817 Z"/><path class="p" d="M829,813 h8"/>
<path class="pf" style="stroke-width:1.2" d="M786,833.5 Q792,830.5 798,833.5 L796,839.5 L792,843.5 L788,839.5 Z"/><path class="p" d="M788,835.5 h8"/>
<ellipse class="pf" style="stroke-width:1.32" cx="792" cy="938" rx="4.8" ry="6"/><path class="p" style="stroke-width:1.2" d="M789,938 h6 M788.5,944 v3 h7 v-3"/>
<ellipse class="pf" style="stroke-width:1.32" cx="885" cy="937.5" rx="4.8" ry="6"/><path class="p" style="stroke-width:1.2" d="M882,937.5 h6 M881.5,943.5 v3 h7 v-3"/>
<path class="p" style="stroke-width:1.32" d="M1008,843 h8 v4 l-2,5 M1010,846 l-2,5 l4,3 M1012,843 v10"/>
<path class="p" style="stroke-width:1.8" d="M1013,890 v9"/><rect class="pf" style="stroke-width:1.2" x="1007.5" y="899" width="11" height="7.5" rx="2"/><path class="p" d="M1010,906.5 v2 h6 v-2"/>
<text class="b" transform="translate(127.9,220.8) scale(1,1.06)" textLength="58.2474" lengthAdjust="spacingAndGlyphs">58621F</text>
<text class="b" transform="translate(216.9,321.8) scale(1,1.06)" textLength="56.1856" lengthAdjust="spacingAndGlyphs">57O54B</text>
<text class="b" transform="translate(316.4,354.3) scale(1,1.06)" textLength="46.6805" lengthAdjust="spacingAndGlyphs">58171</text>
<text class="b" transform="translate(89.9,391.8) scale(1,1.06)" textLength="56.1856" lengthAdjust="spacingAndGlyphs">58123A</text>
<text class="b" transform="translate(495.4,297.3) scale(1,1.06)" textLength="57.732" lengthAdjust="spacingAndGlyphs">58O15A</text>
<text class="b" transform="translate(687.4,270.3) scale(1,1.06)" textLength="56.701" lengthAdjust="spacingAndGlyphs">58792D</text>
<text class="b" transform="translate(608.9,348.3) scale(1,1.06)" textLength="57.2165" lengthAdjust="spacingAndGlyphs">58798C</text>
<text class="b" transform="translate(608.9,380.8) scale(1,1.06)" textLength="57.2165" lengthAdjust="spacingAndGlyphs">58793C</text>
<text class="b" transform="translate(635.4,402.8) scale(1,1.06)" textLength="56.701" lengthAdjust="spacingAndGlyphs">583O5F</text>
<text class="b" transform="translate(788.9,381.8) scale(1,1.06)" textLength="56.1856" lengthAdjust="spacingAndGlyphs">58336F</text>
<text class="b" transform="translate(853.9,392.8) scale(1,1.06)" textLength="47.1992" lengthAdjust="spacingAndGlyphs">583O5</text>
<text class="b" transform="translate(746.9,416.8) scale(1,1.06)" textLength="46.6805" lengthAdjust="spacingAndGlyphs">58311</text>
<text class="b" transform="translate(354.9,453.3) scale(1,1.06)" textLength="56.701" lengthAdjust="spacingAndGlyphs">58325E</text>
<text class="b" transform="translate(505.4,455.8) scale(1,1.06)" textLength="56.701" lengthAdjust="spacingAndGlyphs">58215C</text>
<text class="b" transform="translate(573.15,499.8) scale(1,1.06)" textLength="56.9588" lengthAdjust="spacingAndGlyphs">58369B</text>
<text class="b" transform="translate(896.9,460.8) scale(1,1.06)" textLength="56.1856" lengthAdjust="spacingAndGlyphs">58337D</text>
<text class="b" transform="translate(1031.4,290.3) scale(1,1.06)" textLength="46.6805" lengthAdjust="spacingAndGlyphs">583O7</text>
<text class="b" transform="translate(946.9,322.3) scale(1,1.06)" textLength="56.1856" lengthAdjust="spacingAndGlyphs">58385N</text>
<text class="b" transform="translate(1031.4,335.3) scale(1,1.06)" textLength="56.701" lengthAdjust="spacingAndGlyphs">58386B</text>
<text class="b" transform="translate(1093.15,324.3) scale(1,1.06)" textLength="55.9278" lengthAdjust="spacingAndGlyphs">58323E</text>
<text class="b" transform="translate(1134.9,339.8) scale(1,1.06)" textLength="56.1856" lengthAdjust="spacingAndGlyphs">58324D</text>
<text class="b" transform="translate(231.9,544.3) scale(1,1.06)" textLength="56.701" lengthAdjust="spacingAndGlyphs">61O61F</text>
<text class="b" transform="translate(405.4,517.3) scale(1,1.06)" textLength="47.1992" lengthAdjust="spacingAndGlyphs">582O8</text>
<text class="b" transform="translate(673.4,574.8) scale(1,1.06)" textLength="56.701" lengthAdjust="spacingAndGlyphs">58216C</text>
<text class="b" transform="translate(60.4,618.3) scale(1,1.06)" textLength="47.1992" lengthAdjust="spacingAndGlyphs">58136</text>
<text class="b" transform="translate(378.15,678.3) scale(1,1.06)" textLength="56.9588" lengthAdjust="spacingAndGlyphs">58212C</text>
<text class="b" transform="translate(902.4,638.3) scale(1,1.06)" textLength="56.701" lengthAdjust="spacingAndGlyphs">583O6F</text>
<text class="b" transform="translate(831.9,673.3) scale(1,1.06)" textLength="57.2165" lengthAdjust="spacingAndGlyphs">58369B</text>
<text class="b" transform="translate(516.1,742.3) scale(1,1.06)" textLength="55.9794" lengthAdjust="spacingAndGlyphs">61O62F</text>
<text class="b" transform="translate(58.15,779.3) scale(1,1.06)" textLength="46.4212" lengthAdjust="spacingAndGlyphs">58111</text>
<text class="b" transform="translate(168.1,888.3) scale(1,1.06)" textLength="46.473" lengthAdjust="spacingAndGlyphs">58189</text>
<text class="b" transform="translate(771.9,784.8) scale(1,1.06)" textLength="56.1856" lengthAdjust="spacingAndGlyphs">58415G</text>
<text class="s" transform="translate(47.65,338.5) scale(1,1.0)" textLength="111.686" lengthAdjust="spacingAndGlyphs">9O119-AOO61(2)</text>
<text class="s" transform="translate(249.4,472) scale(1,1.0)" textLength="110.42" lengthAdjust="spacingAndGlyphs">9O119-AOO61(6)</text>
<text class="s" transform="translate(313.9,492) scale(1,1.0)" textLength="112.446" lengthAdjust="spacingAndGlyphs">9OO8O-11719(7)</text>
<text class="s" transform="translate(522.65,433.5) scale(1,1.0)" textLength="111.179" lengthAdjust="spacingAndGlyphs">9O297-O3OO5(3)</text>
<text class="s" transform="translate(589.4,533.5) scale(1,1.0)" textLength="111.939" lengthAdjust="spacingAndGlyphs">9O297-O3OO5(4)</text>
<text class="s" transform="translate(804.4,321.5) scale(1,1.0)" textLength="112.446" lengthAdjust="spacingAndGlyphs">9O178-AOO62(2)</text>
<text class="s" transform="translate(634.4,626.5) scale(1,1.0)" textLength="111.939" lengthAdjust="spacingAndGlyphs">9OO8O-1161O(5)</text>
<text class="s" transform="translate(606.9,682) scale(1,1.0)" textLength="111.939" lengthAdjust="spacingAndGlyphs">9OO8O-1161O(2)</text>
<text class="s" transform="translate(556.9,769.5) scale(1,1.0)" textLength="111.939" lengthAdjust="spacingAndGlyphs">9OO8O-11719(7)</text>
<text class="s" transform="translate(429.4,789) scale(1,1.0)" textLength="111.939" lengthAdjust="spacingAndGlyphs">9OO8O-1161O(6)</text>
<text class="s" transform="translate(671.9,818.5) scale(1,1.0)" textLength="112.952" lengthAdjust="spacingAndGlyphs">9O561-13OO3(2)</text>
<text class="s" transform="translate(633.15,841.5) scale(1,1.0)" textLength="112.192" lengthAdjust="spacingAndGlyphs">9O561-11O11(3)</text>
<text class="s" transform="translate(630.65,943) scale(1,1.0)" textLength="112.192" lengthAdjust="spacingAndGlyphs">9O48O-1OO24(3)</text>
<text class="s" transform="translate(835.65,985) scale(1,1.0)" textLength="111.686" lengthAdjust="spacingAndGlyphs">9O467-14O53(2)</text>
<text class="s" transform="translate(1048.65,850.5) scale(1,1.0)" textLength="112.192" lengthAdjust="spacingAndGlyphs">9O189-O6193(4)</text>
<text class="s" transform="translate(1048.65,909.3) scale(1,1.0)" textLength="112.192" lengthAdjust="spacingAndGlyphs">9O159-6O525(4)</text>
<g font-family="Liberation Sans" font-weight="bold" font-size="132" fill="none" stroke="#ededed" style="mix-blend-mode:multiply" stroke-width="2"><text x="340" y="622" textLength="590" lengthAdjust="spacingAndGlyphs">DRAKKAR</text></g>
</g><rect x="994.4" y="813.2" width="43" height="55" rx="11.5" ry="11.5" fill="none" stroke="#c41230" stroke-width="3.4"/></svg></body></html>
